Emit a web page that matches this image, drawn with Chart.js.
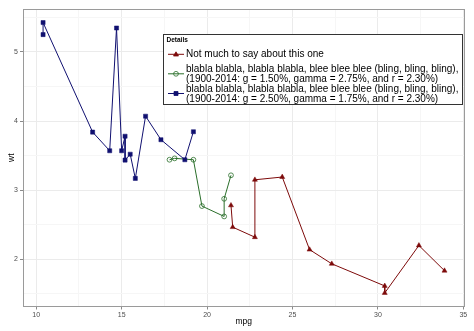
<!DOCTYPE html>
<html>
<head>
<meta charset="utf-8">
<script src="https://cdn.jsdelivr.net/npm/chart.js@4.4.0/dist/chart.umd.min.js"></script>
<style>
html, body { margin: 0; padding: 0; background: #ffffff; }
#box { width: 474px; height: 331px; }
</style>
</head>
<body>
<div id="box"><canvas id="grafico"></canvas></div>
<script>
// === Dados (mpg x wt, um grupo por linha, ordenados por mpg) ===
const mpg4 = [21.4, 21.5, 22.8, 22.8, 24.4, 26.0, 27.3, 30.4, 30.4, 32.4, 33.9];
const wt4 = [2.780, 2.465, 2.320, 3.150, 3.190, 2.140, 1.935, 1.615, 1.513, 2.200, 1.835];

const mpg6 = [17.8, 18.1, 19.2, 19.7, 21.0, 21.0, 21.4];
const wt6 = [3.440, 3.460, 3.440, 2.770, 2.620, 2.875, 3.215];

const mpg8 = [10.4, 10.4, 13.3, 14.3, 14.7, 15.0, 15.2, 15.2, 15.5, 15.8, 16.4, 17.3, 18.7, 19.2];
const wt8 = [5.250, 5.424, 3.840, 3.570, 5.345, 3.570, 3.780, 3.435, 3.520, 3.170, 4.070, 3.730, 3.440, 3.845];

const tituloLegenda = "Details";
const texto4 = ["Not much to say about this one"];
const texto6 = ["blabla blabla, blabla blabla, blee blee blee (bling, bling, bling),",
                "(1900-2014: g = 1.50%, gamma = 2.75%, and r = 2.30%)"];
const texto8 = ["blabla blabla, blabla blabla, blee blee blee (bling, bling, bling),",
                "(1900-2014: g = 2.50%, gamma = 1.75%, and r = 2.30%)"];

const xTicks = [10, 15, 20, 25, 30, 35];
const yTicks = [2, 3, 4, 5];

// === Estilos ===
const corVermelho = "#7d0a0a";
const corVerde = "#2a6e2a";
const corAzul = "#101070";
const gridMaior = "#ebebeb";
const gridMenor = "#f6f6f6";
const fonte = "'Liberation Sans', Arial, sans-serif";

function pontos(xs, ys) {
    return xs.map((x, i) => ({ x: x, y: ys[i] }));
}

function ehMaior(valor, lista) {
    return lista.some(t => Math.abs(t - valor) < 1e-6);
}

// === Legenda desenhada à mão (entradas com duas linhas) ===
const legendaPlugin = {
    id: "legendaDetalhes",
    afterDraw(chart) {
        const ctx = chart.ctx;
        const a = chart.chartArea;
        ctx.save();

        // borda do painel
        ctx.strokeStyle = "#9a9a9a";
        ctx.lineWidth = 1;
        ctx.strokeRect(Math.round(a.left) + 0.5, Math.round(a.top) + 0.5,
            Math.round(a.right - a.left) - 1, Math.round(a.bottom - a.top) - 1);

        // caixa
        const bx = 163.5, by = 34.5, bw = 299, bh = 70;
        ctx.fillStyle = "#ffffff";
        ctx.fillRect(bx, by, bw, bh);
        ctx.strokeStyle = "#333333";
        ctx.lineWidth = 1;
        ctx.strokeRect(bx, by, bw, bh);

        ctx.fillStyle = "#000000";
        ctx.font = "bold 6.5px " + fonte;
        ctx.textBaseline = "middle";
        ctx.textAlign = "left";
        ctx.fillText(tituloLegenda, 166.5, 40.5);

        const entradas = [
            { ds: chart.data.datasets[2], chave: 54.3, linhas: texto4, ys: [54.3] },
            { ds: chart.data.datasets[1], chave: 73.8, linhas: texto6, ys: [69.3, 78.8] },
            { ds: chart.data.datasets[0], chave: 93.5, linhas: texto8, ys: [89.3, 98.8] }
        ];

        entradas.forEach(e => {
            const cx = 176;
            ctx.strokeStyle = e.ds.borderColor;
            ctx.lineWidth = 1;
            ctx.beginPath();
            ctx.moveTo(168, e.chave);
            ctx.lineTo(184, e.chave);
            ctx.stroke();

            ctx.fillStyle = e.ds.pointBackgroundColor;
            ctx.strokeStyle = e.ds.pointBorderColor;
            ctx.lineWidth = 0.8;
            ctx.beginPath();
            if (e.ds.pointStyle === "triangle") {
                ctx.moveTo(cx, e.chave - 2.5);
                ctx.lineTo(cx + 2.5, e.chave + 1.7);
                ctx.lineTo(cx - 2.5, e.chave + 1.7);
                ctx.closePath();
            } else if (e.ds.pointStyle === "rect") {
                ctx.rect(cx - 2, e.chave - 2, 4, 4);
            } else {
                ctx.arc(cx, e.chave, 2.4, 0, Math.PI * 2);
            }
            ctx.fill();
            ctx.stroke();

            ctx.fillStyle = "#000000";
            ctx.font = "10px " + fonte;
            e.linhas.forEach((t, i) => ctx.fillText(t, 186, e.ys[i]));
        });

        ctx.restore();
    }
};

const grafico = new Chart(document.getElementById("grafico"), {
    type: "scatter",
    data: {
        datasets: [
            {
                label: "8",
                data: pontos(mpg8, wt8),
                showLine: true,
                borderColor: corAzul,
                borderWidth: 1,
                pointStyle: "rect",
                pointRadius: 2.9,
                pointBackgroundColor: corAzul,
                pointBorderColor: corAzul,
                pointBorderWidth: 0.5,
                order: 0
            },
            {
                label: "6",
                data: pontos(mpg6, wt6),
                showLine: true,
                borderColor: corVerde,
                borderWidth: 1,
                pointStyle: "circle",
                pointRadius: 2.4,
                pointBackgroundColor: "rgba(255,255,255,0)",
                pointBorderColor: corVerde,
                pointBorderWidth: 0.8,
                order: 1
            },
            {
                label: "4",
                data: pontos(mpg4, wt4),
                showLine: true,
                borderColor: corVermelho,
                borderWidth: 1,
                pointStyle: "triangle",
                pointRadius: 2.9,
                pointBackgroundColor: corVermelho,
                pointBorderColor: corVermelho,
                pointBorderWidth: 0.5,
                order: 2
            }
        ]
    },
    options: {
        responsive: true,
        maintainAspectRatio: false,
        animation: false,
        layout: { padding: { top: 9, right: 9.4, left: 0, bottom: 0 } },
        plugins: {
            legend: { display: false },
            tooltip: { enabled: false }
        },
        scales: {
            x: {
                type: "linear",
                min: 9.225,
                max: 35.075,
                afterFit: s => { s.height = 24.5; },
                border: { display: false },
                grid: {
                    color: c => ehMaior(c.tick.value, xTicks) ? gridMaior : gridMenor,
                    tickColor: c => ehMaior(c.tick.value, xTicks) ? "#8a8a8a" : "rgba(0,0,0,0)",
                    tickLength: 3
                },
                ticks: {
                    stepSize: 2.5,
                    includeBounds: false,
                    autoSkip: false,
                    maxRotation: 0,
                    padding: 1,
                    color: "#4d4d4d",
                    font: { family: fonte, size: 7 },
                    callback: v => ehMaior(v, xTicks) ? String(Math.round(v)) : ""
                },
                title: {
                    display: true,
                    text: "mpg",
                    color: "#000000",
                    font: { family: fonte, size: 8.5 },
                    padding: { top: 0, bottom: 4 }
                }
            },
            y: {
                type: "linear",
                min: 1.3175,
                max: 5.62,
                afterFit: s => { s.width = 23; },
                border: { display: false },
                grid: {
                    color: c => ehMaior(c.tick.value, yTicks) ? gridMaior : gridMenor,
                    tickColor: c => ehMaior(c.tick.value, yTicks) ? "#8a8a8a" : "rgba(0,0,0,0)",
                    tickLength: 3
                },
                ticks: {
                    stepSize: 0.5,
                    includeBounds: false,
                    autoSkip: false,
                    padding: 2,
                    color: "#4d4d4d",
                    font: { family: fonte, size: 7 },
                    callback: v => ehMaior(v, yTicks) ? String(Math.round(v)) : ""
                },
                title: {
                    display: true,
                    text: "wt",
                    color: "#000000",
                    font: { family: fonte, size: 8.5 },
                    padding: { top: 6.5, bottom: 0 }
                }
            }
        }
    },
    plugins: [legendaPlugin]
});
</script>
</body>
</html>
